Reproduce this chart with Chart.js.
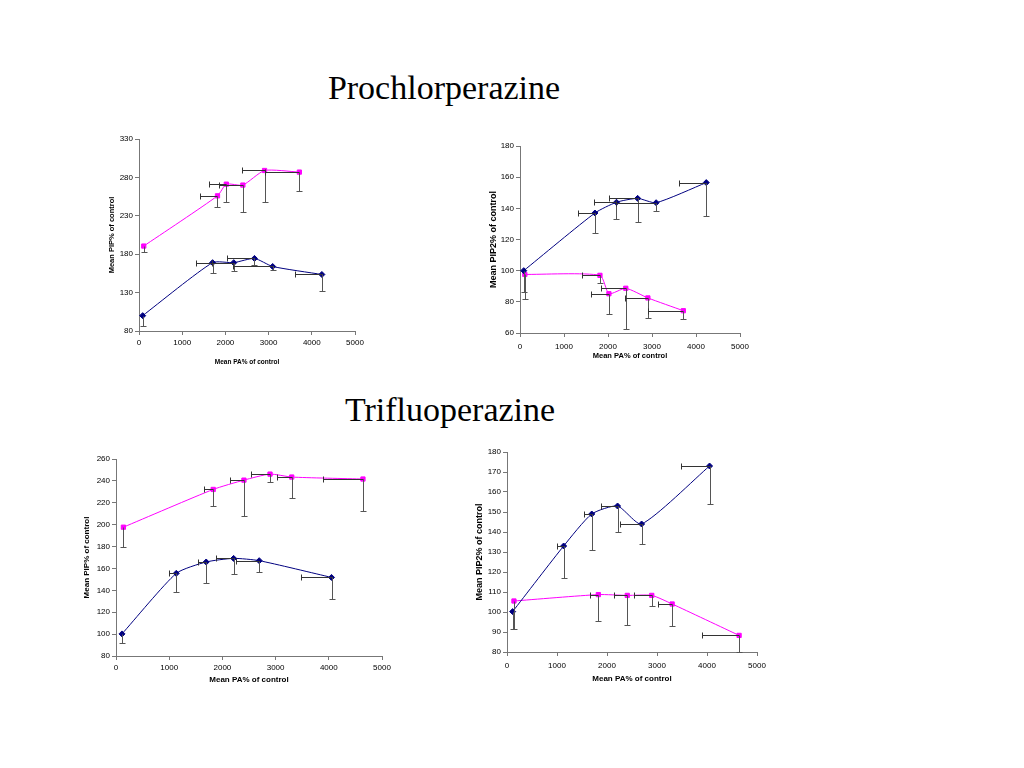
<!DOCTYPE html>
<html>
<head>
<meta charset="utf-8">
<script src="https://cdn.jsdelivr.net/npm/chart.js@4.4.1/dist/chart.umd.min.js"></script>
<style>
  body { margin: 0; background: #fff; width: 1024px; height: 768px; position: relative; overflow: hidden; }
  canvas { position: absolute; }
  .ttl { position: absolute; width: 400px; text-align: center; color: #000;
         font: 34px "Liberation Serif", "Times New Roman", serif; line-height: 34px; }
</style>
</head>
<body>
<div class="ttl" style="left:244px;top:71px">Prochlorperazine</div>
<div class="ttl" style="left:250px;top:393px">Trifluoperazine</div>
<canvas id="c1" width="268" height="241" style="left:107px;top:125px"></canvas>
<canvas id="c2" width="272" height="228" style="left:488px;top:132px"></canvas>
<canvas id="c3" width="320" height="240" style="left:82px;top:445px"></canvas>
<canvas id="c4" width="303" height="246" style="left:474px;top:438px"></canvas>
<script>
// x axis (PA % of control), shared by all panels
const paTicks = [0, 1000, 2000, 3000, 4000, 5000];

// Prochlorperazine: PA % values, same for both upper panels
const proNavyX    = [85, 1703, 2193, 2673, 3094, 4233];
const proNavyXErr = [0, 395, 510, 641, 920, 617];
const proPinkX    = [110, 1817, 2021, 2404, 2906, 3712];
const proPinkXErr = [0, 414, 398, 563, 514, 798];

// Prochlorperazine - PIP
const proPipTicks   = [80, 130, 180, 230, 280, 330];
const proPipNavy    = [100, 169, 169, 174.5, 164, 153.6];
const proPipNavyErr = [14, 13, 11, 9, 5, 22];
const proPipPink    = [190.6, 256, 271.2, 270, 289, 286.9];
const proPipPinkErr = [8, 15, 23, 35, 41, 24];

// Prochlorperazine - PIP2
const proPip2Ticks   = [60, 80, 100, 120, 140, 160, 180];
const proPip2Navy    = [100, 137, 143.9, 146.4, 143.6, 156.5];
const proPip2NavyErr = [14, 13, 11, 15, 5, 21.6];
const proPip2Pink    = [97.6, 97, 85.2, 88.7, 82.5, 74.3];
const proPip2PinkErr = [16, 5, 13, 26, 12.7, 5];

// Trifluoperazine: PA % values, same for both lower panels
const triNavyX    = [113, 1133, 1695, 2211, 2692, 4051];
const triNavyXErr = [0, 133, 151, 339, 432, 578];
const triPinkX    = [139, 1827, 2405, 2895, 3303, 4642];
const triPinkXErr = [0, 175, 258, 358, 274, 752];

// Trifluoperazine - PIP
const triPipTicks   = [80, 100, 120, 140, 160, 180, 200, 220, 240, 260];
const triPipNavy    = [100.2, 155.5, 165.9, 169.2, 167.1, 151.8];
const triPipNavyErr = [8, 17, 19, 14, 10, 20];
const triPipPink    = [197.7, 232.2, 240.7, 246.2, 243.5, 241.7];
const triPipPinkErr = [18.4, 14.7, 33, 7, 19, 29];

// Trifluoperazine - PIP2
const triPip2Ticks   = [80, 90, 100, 110, 120, 130, 140, 150, 160, 170, 180];
const triPip2Navy    = [100.2, 133, 149, 153, 144, 173];
const triPip2NavyErr = [8.5, 16, 18, 13, 10, 19];
const triPip2Pink    = [105.5, 108.7, 108.3, 108.3, 104, 88.3];
const triPip2PinkErr = [14, 13, 14.7, 5.5, 11, 8.3];

const FONT = '"Liberation Sans", Arial, sans-serif';
const AXIS = '#777777';

// minus-only error bars, x to the left and y downwards, with end caps
const errorBars = {
  id: 'errorBars',
  afterDatasetsDraw(chart) {
    const ctx = chart.ctx;
    const xs = chart.scales.x, ys = chart.scales.y;
    ctx.save();
    ctx.lineWidth = 1;
    chart.data.datasets.forEach(ds => {
      ds.data.forEach((p, i) => {
        const px = Math.round(xs.getPixelForValue(p.x)) + 0.5;
        const py = Math.round(ys.getPixelForValue(p.y)) + 0.5;
        if (ds.errX && ds.errX[i] > 0) {
          const ex = Math.round(xs.getPixelForValue(p.x - ds.errX[i])) + 0.5;
          ctx.strokeStyle = '#333333';
          ctx.beginPath();
          ctx.moveTo(px, py); ctx.lineTo(ex, py);
          ctx.moveTo(ex, py - 3); ctx.lineTo(ex, py + 3);
          ctx.stroke();
        }
        if (ds.errY && ds.errY[i] > 0) {
          const ey = Math.round(ys.getPixelForValue(p.y - ds.errY[i])) + 0.5;
          ctx.strokeStyle = '#555555';
          ctx.beginPath();
          ctx.moveTo(px, py); ctx.lineTo(px, ey);
          ctx.moveTo(px - 3, ey); ctx.lineTo(px + 3, ey);
          ctx.stroke();
        }
      });
    });
    ctx.restore();
  }
};

function series(xv, yv, xe, ye, color, style) {
  return {
    data: xv.map((x, i) => ({ x: x, y: yv[i] })),
    errX: xe, errY: ye,
    showLine: true, tension: 0.2,
    borderColor: color, backgroundColor: color, borderWidth: 1,
    pointStyle: style, pointRadius: 3, pointBorderWidth: 1
  };
}

function panel(id, o) {
  return new Chart(document.getElementById(id), {
    type: 'scatter',
    data: {
      datasets: [
        series(o.navyX, o.navyY, o.navyXErr, o.navyYErr, '#000080', 'rectRot'),
        series(o.pinkX, o.pinkY, o.pinkXErr, o.pinkYErr, '#FF00FF', 'rect')
      ]
    },
    options: {
      responsive: false,
      animation: false,
      events: [],
      layout: { padding: { top: 14, right: 20, left: 0, bottom: 0 } },
      plugins: { legend: { display: false }, tooltip: { enabled: false } },
      scales: {
        x: {
          type: 'linear', min: 0, max: 5000,
          afterBuildTicks: s => { s.ticks = paTicks.map(v => ({ value: v })); },
          afterFit: s => { s.height = o.xh; },
          grid: { drawOnChartArea: false, tickLength: 4, color: AXIS },
          border: { color: AXIS },
          ticks: { color: '#000', padding: o.xPad, font: { size: 8, family: FONT },
                   callback: v => String(v) },
          title: { display: true, text: 'Mean PA% of control', color: '#000',
                   padding: { top: 0, bottom: 0 },
                   font: { size: o.xtSize, weight: 'bold', family: FONT } }
        },
        y: {
          type: 'linear', min: o.ticks[0], max: o.ticks[o.ticks.length - 1],
          afterBuildTicks: s => { s.ticks = o.ticks.map(v => ({ value: v })); },
          afterFit: s => { s.width = o.yw; },
          grid: { drawOnChartArea: false, tickLength: 4, color: AXIS },
          border: { color: AXIS },
          ticks: { color: '#000', padding: 2, font: { size: 8, family: FONT },
                   callback: v => String(v) },
          title: { display: true, text: o.yTitle, color: '#000',
                   padding: { top: 0, bottom: 0 },
                   font: { size: o.ytSize, weight: 'bold', family: FONT } }
        }
      }
    },
    plugins: [errorBars]
  });
}

panel('c1', {
  navyX: proNavyX, navyXErr: proNavyXErr, navyY: proPipNavy, navyYErr: proPipNavyErr,
  pinkX: proPinkX, pinkXErr: proPinkXErr, pinkY: proPipPink, pinkYErr: proPipPinkErr,
  ticks: proPipTicks, yTitle: 'Mean PIP% of control',
  yw: 32, xh: 35, xPad: 3, xtSize: 6.5, ytSize: 7.5
});
panel('c2', {
  navyX: proNavyX, navyXErr: proNavyXErr, navyY: proPip2Navy, navyYErr: proPip2NavyErr,
  pinkX: proPinkX, pinkXErr: proPinkXErr, pinkY: proPip2Pink, pinkYErr: proPip2PinkErr,
  ticks: proPip2Ticks, yTitle: 'Mean PIP2% of control',
  yw: 32, xh: 27, xPad: 5, xtSize: 7.5, ytSize: 9
});
panel('c3', {
  navyX: triNavyX, navyXErr: triNavyXErr, navyY: triPipNavy, navyYErr: triPipNavyErr,
  pinkX: triPinkX, pinkXErr: triPinkXErr, pinkY: triPipPink, pinkYErr: triPipPinkErr,
  ticks: triPipTicks, yTitle: 'Mean PIP% of control',
  yw: 34, xh: 29, xPad: 3, xtSize: 8, ytSize: 8
});
panel('c4', {
  navyX: triNavyX, navyXErr: triNavyXErr, navyY: triPip2Navy, navyYErr: triPip2NavyErr,
  pinkX: triPinkX, pinkXErr: triPinkXErr, pinkY: triPip2Pink, pinkYErr: triPip2PinkErr,
  ticks: triPip2Ticks, yTitle: 'Mean PIP2% of control',
  yw: 33, xh: 32, xPad: 5, xtSize: 8, ytSize: 9
});
</script>
</body>
</html>
